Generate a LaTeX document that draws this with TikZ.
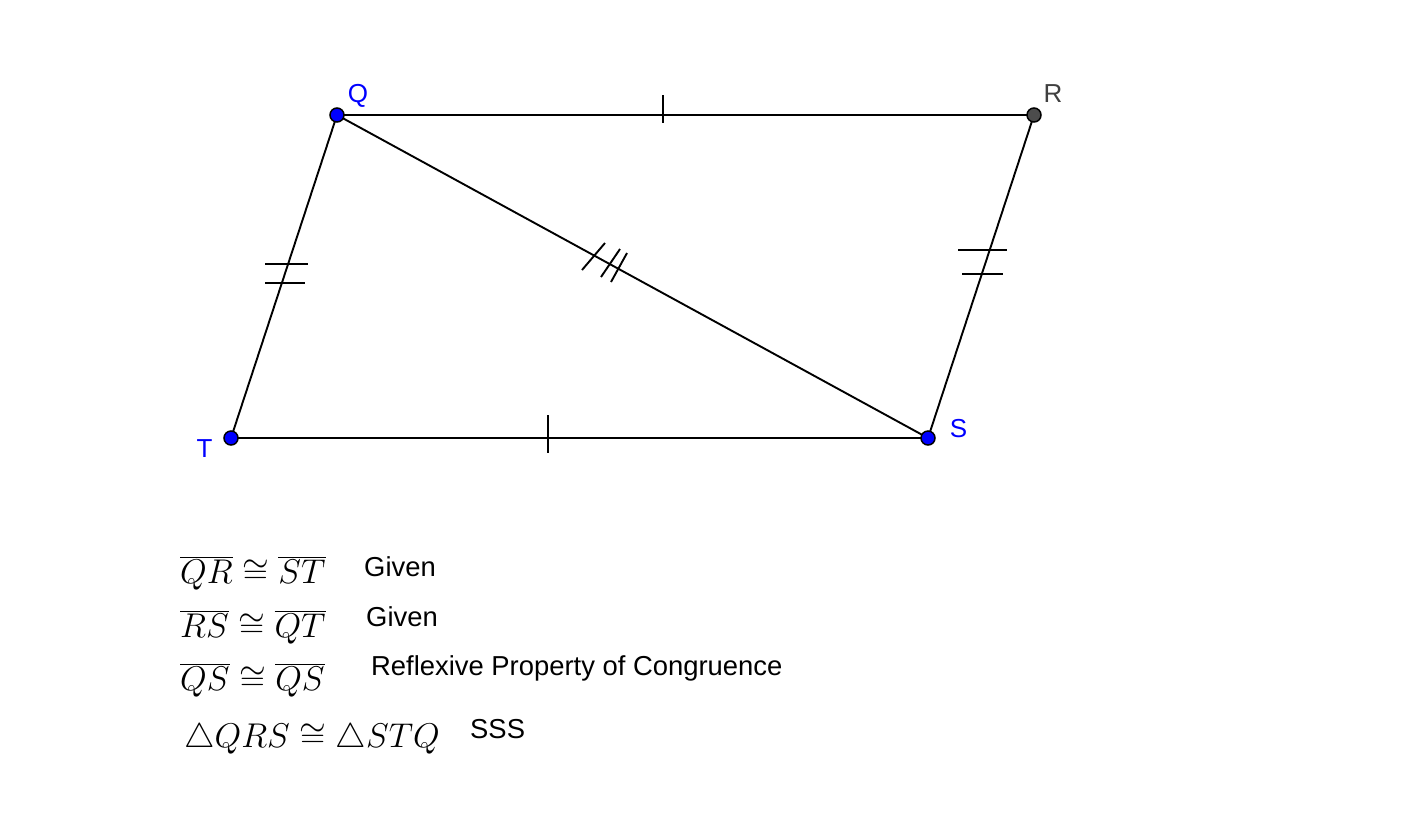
\documentclass[tikz,border=0pt]{standalone}
\usepackage{fontspec}
\setmainfont{Liberation Sans}
\begin{document}
\begin{tikzpicture}[x=1pt,y=-1pt,
  seg/.style={line width=1.9pt,black},
  tickmark/.style={line width=1.9pt,black},
  ptblue/.style={circle,draw=black,line width=1.5pt,fill=blue,inner sep=0pt,minimum size=14pt},
  ptgray/.style={circle,draw=black,line width=1.5pt,fill=black!70,inner sep=0pt,minimum size=14pt},
  lbl/.style={font=\fontsize{26}{30}\selectfont,inner sep=0pt,anchor=base},
  reason/.style={font=\fontsize{27.4}{31}\selectfont,anchor=west,inner sep=0pt},
  mathline/.style={font=\fontsize{24.88}{30}\selectfont,anchor=base west,inner sep=0pt}]
\useasboundingbox[fill=white] (0,0) rectangle (1424,831);
\coordinate (Q) at (337,115);
\coordinate (R) at (1034,115);
\coordinate (S) at (928,438);
\coordinate (T) at (231,438);
\draw[seg] (Q) -- (R);
\draw[seg] (R) -- (S);
\draw[seg] (S) -- (T);
\draw[seg] (T) -- (Q);
\draw[seg] (Q) -- (S);
% single ticks
\draw[tickmark] (663,95) -- (663,123);
\draw[tickmark] (548,415) -- (548,453);
% double ticks
\draw[tickmark] (265,264) -- (308,264);
\draw[tickmark] (265,283) -- (305,283);
\draw[tickmark] (958,250) -- (1007,250);
\draw[tickmark] (962,274) -- (1003,274);
% triple ticks
\draw[tickmark] (582,270) -- (605,243);
\draw[tickmark] (601,277) -- (620,249);
\draw[tickmark] (611,282) -- (627,253);
% points
\node[ptblue] (q) at (Q) {};
\node[ptgray] (r) at (R) {};
\node[ptblue] (s) at (S) {};
\node[ptblue] (t) at (T) {};
\node[lbl,text=blue] (lq) at (358,102) {Q};
\node[lbl,text=black!75] (lr) at (1053,102) {R};
\node[lbl,text=blue] (lt) at (204.5,457) {T};
\node[lbl,text=blue] (ls) at (958.5,437) {S};
% proof
\node[mathline] (m1) at (180,583) {\scalebox{1.38}{$\overline{QR}\cong\overline{ST}$}};
\node[mathline] (m2) at (180,637) {\scalebox{1.38}{$\overline{RS}\cong\overline{QT}$}};
\node[mathline] (m3) at (180,690) {\scalebox{1.38}{$\overline{QS}\cong\overline{QS}$}};
\node[mathline] (m4) at (184,747) {\scalebox{1.38}{$\triangle QRS\cong\triangle STQ$}};
\node[reason] (r1) at (364,567) {Given};
\node[reason] (r2) at (366,617) {Given};
\node[reason] (r3) at (371,668) {Reflexive Property of Congruence};
\node[reason] (r4) at (470,729) {SSS};
\end{tikzpicture}
\end{document}
